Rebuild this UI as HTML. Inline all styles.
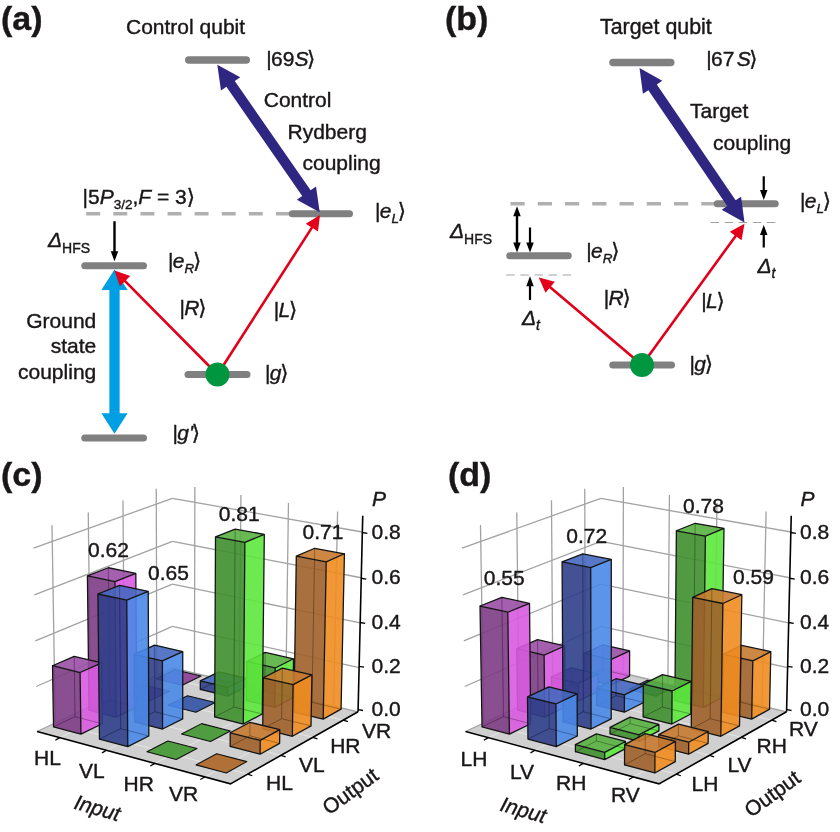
<!DOCTYPE html>
<html><head><meta charset="utf-8"><title>Figure</title>
<style>
html,body{margin:0;padding:0;background:#fff;}
svg{display:block;}
text{font-family:'Liberation Sans', 'DejaVu Sans', sans-serif;fill:#1a1718;stroke:#1a1718;stroke-width:0.4px;}
</style></head>
<body>
<svg width="840" height="832" viewBox="0 0 840 832">
<rect width="840" height="832" fill="#fff"/>
<g id="top"><line x1="86.25" y1="213.75" x2="300" y2="213.75" stroke="#b0b0b0" stroke-width="3.6" stroke-dasharray="13.9 13.2"/>
<line x1="188.75" y1="60" x2="246.25" y2="60" stroke="#808080" stroke-width="7.5" stroke-linecap="round"/>
<line x1="292.25" y1="213.75" x2="349.5" y2="213.75" stroke="#808080" stroke-width="7" stroke-linecap="round"/>
<line x1="84.75" y1="265.75" x2="143.5" y2="265.75" stroke="#808080" stroke-width="7" stroke-linecap="round"/>
<line x1="84.75" y1="438" x2="143.5" y2="438" stroke="#808080" stroke-width="7" stroke-linecap="round"/>
<line x1="188.0" y1="374.5" x2="247.0" y2="374.5" stroke="#808080" stroke-width="7" stroke-linecap="round"/>
<polygon points="114.50,433.75 127.62,413.25 119.62,413.25 119.62,290.00 127.62,290.00 114.50,269.50 101.38,290.00 109.38,290.00 109.38,413.25 101.38,413.25" fill="#009fe3"/>
<polygon points="218.42,373.59 125.98,280.24 130.21,276.06 114.50,270.50 119.90,286.26 124.13,282.07 216.58,375.41" fill="#e2001a"/>
<polygon points="218.59,375.20 312.98,228.32 317.99,231.54 320.00,215.00 305.79,223.70 310.80,226.92 216.41,373.80" fill="#e2001a"/>
<polygon points="217.30,64.70 220.97,90.51 226.39,86.75 302.23,196.06 296.81,199.83 319.70,212.30 316.03,186.49 310.61,190.25 234.77,80.94 240.19,77.17" fill="#2f2682"/>
<circle cx="217.5" cy="374.5" r="12" fill="#00963f"/>
<polygon points="113.30,221.25 113.30,251.25 110.75,251.25 114.50,261.25 118.25,251.25 115.70,251.25 115.70,221.25" fill="#000"/>
<line x1="510.5" y1="203.75" x2="726" y2="203.75" stroke="#b0b0b0" stroke-width="3.6" stroke-dasharray="14.2 13.05"/>
<line x1="613.0" y1="62.5" x2="670.75" y2="62.5" stroke="#808080" stroke-width="7.5" stroke-linecap="round"/>
<line x1="717.25" y1="203.75" x2="775.25" y2="203.75" stroke="#808080" stroke-width="7" stroke-linecap="round"/>
<line x1="509.75" y1="255.75" x2="568.25" y2="255.75" stroke="#808080" stroke-width="7" stroke-linecap="round"/>
<line x1="612.75" y1="365" x2="671.5" y2="365" stroke="#808080" stroke-width="7" stroke-linecap="round"/>
<line x1="710.5" y1="222.5" x2="777.5" y2="222.5" stroke="#999" stroke-width="0.9" stroke-dasharray="8.5 5.6"/>
<line x1="506.25" y1="275" x2="571.25" y2="275" stroke="#999" stroke-width="0.9" stroke-dasharray="8.5 5.6"/>
<polygon points="642.84,364.01 551.03,286.21 554.88,281.67 538.75,277.50 545.51,292.73 549.35,288.19 641.16,365.99" fill="#e2001a"/>
<polygon points="643.05,365.76 736.74,236.65 741.56,240.15 744.50,223.75 729.82,231.63 734.64,235.13 640.95,364.24" fill="#e2001a"/>
<polygon points="639.50,68.00 642.92,93.85 648.38,90.14 727.19,206.10 721.73,209.81 744.50,222.50 741.08,196.65 735.62,200.36 656.81,84.40 662.27,80.69" fill="#2f2682"/>
<circle cx="642" cy="365" r="12" fill="#00963f"/>
<polygon points="762.65,176.25 762.65,190.00 760.00,190.00 763.75,200.00 767.50,190.00 764.85,190.00 764.85,176.25" fill="#000"/>
<polygon points="764.85,247.50 764.85,235.00 767.50,235.00 763.75,225.00 760.00,235.00 762.65,235.00 762.65,247.50" fill="#000"/>
<polygon points="517.00,206.25 513.25,216.25 515.80,216.25 515.80,242.50 513.25,242.50 517.00,252.50 520.75,242.50 518.20,242.50 518.20,216.25 520.75,216.25" fill="#000"/>
<polygon points="528.90,227.50 528.90,242.50 526.25,242.50 530.00,252.50 533.75,242.50 531.10,242.50 531.10,227.50" fill="#000"/>
<polygon points="531.10,300.00 531.10,286.25 533.75,286.25 530.00,276.25 526.25,286.25 528.90,286.25 528.90,300.00" fill="#000"/></g>
<g id="chart-c"><polygon points="37.04,731.50 230.47,783.88 358.06,711.79 172.52,668.00" fill="#d0d0d0"/>
<line x1="59.81" y1="737.67" x2="194.47" y2="673.18" stroke="#e6e6e6" stroke-width="1"/>
<line x1="55.26" y1="722.96" x2="247.71" y2="774.14" stroke="#e6e6e6" stroke-width="1"/>
<line x1="106.52" y1="750.31" x2="239.40" y2="683.79" stroke="#e6e6e6" stroke-width="1"/>
<line x1="90.54" y1="706.42" x2="281.03" y2="755.32" stroke="#e6e6e6" stroke-width="1"/>
<line x1="154.82" y1="763.40" x2="285.75" y2="694.72" stroke="#e6e6e6" stroke-width="1"/>
<line x1="124.36" y1="690.57" x2="312.86" y2="737.33" stroke="#e6e6e6" stroke-width="1"/>
<line x1="204.81" y1="776.94" x2="333.57" y2="706.01" stroke="#e6e6e6" stroke-width="1"/>
<line x1="156.79" y1="675.37" x2="343.32" y2="720.12" stroke="#e6e6e6" stroke-width="1"/>
<line x1="55.26" y1="722.96" x2="51.99" y2="525.12" stroke="#a2a2a2" stroke-width="1.3"/>
<line x1="194.47" y1="673.18" x2="194.86" y2="486.99" stroke="#a2a2a2" stroke-width="1.3"/>
<line x1="90.54" y1="706.42" x2="88.26" y2="512.47" stroke="#a2a2a2" stroke-width="1.3"/>
<line x1="239.40" y1="683.79" x2="240.92" y2="494.91" stroke="#a2a2a2" stroke-width="1.3"/>
<line x1="124.36" y1="690.57" x2="122.98" y2="500.36" stroke="#a2a2a2" stroke-width="1.3"/>
<line x1="285.75" y1="694.72" x2="288.47" y2="503.08" stroke="#a2a2a2" stroke-width="1.3"/>
<line x1="156.79" y1="675.37" x2="156.25" y2="488.75" stroke="#a2a2a2" stroke-width="1.3"/>
<line x1="333.57" y1="706.01" x2="337.58" y2="511.52" stroke="#a2a2a2" stroke-width="1.3"/>
<line x1="37.04" y1="731.50" x2="172.52" y2="668.00" stroke="#a2a2a2" stroke-width="1.3"/>
<line x1="172.52" y1="668.00" x2="358.06" y2="711.79" stroke="#a2a2a2" stroke-width="1.3"/>
<line x1="36.19" y1="686.49" x2="172.48" y2="626.29" stroke="#a2a2a2" stroke-width="1.3"/>
<line x1="172.48" y1="626.29" x2="359.11" y2="667.64" stroke="#a2a2a2" stroke-width="1.3"/>
<line x1="35.32" y1="640.93" x2="172.45" y2="584.11" stroke="#a2a2a2" stroke-width="1.3"/>
<line x1="172.45" y1="584.11" x2="360.18" y2="622.96" stroke="#a2a2a2" stroke-width="1.3"/>
<line x1="34.45" y1="594.81" x2="172.41" y2="541.46" stroke="#a2a2a2" stroke-width="1.3"/>
<line x1="172.41" y1="541.46" x2="361.26" y2="577.75" stroke="#a2a2a2" stroke-width="1.3"/>
<line x1="33.56" y1="548.13" x2="172.38" y2="498.34" stroke="#a2a2a2" stroke-width="1.3"/>
<line x1="172.38" y1="498.34" x2="362.36" y2="531.99" stroke="#a2a2a2" stroke-width="1.3"/>
<polygon points="155.64,678.71 182.27,685.13 201.05,676.07 174.58,669.80" fill="#8e4596" fill-opacity="0.95" stroke="#111" stroke-width="1.1" stroke-linejoin="round"/>
<polygon points="123.03,694.06 149.91,700.76 169.49,691.31 142.76,684.77" fill="#8e4596" fill-opacity="0.95" stroke="#111" stroke-width="1.1" stroke-linejoin="round"/>
<path d="M218.97,680.30L200.30,689.48M218.97,680.30L246.27,686.76M218.97,680.30L219.02,671.86" stroke="#000" stroke-opacity="0.6" stroke-width="1" fill="none"/>
<polygon points="200.30,689.48 227.76,696.11 227.82,687.50 200.32,680.95" fill="#2f3f8a" fill-opacity="0.9"/>
<polygon points="227.76,696.11 246.27,686.76 246.35,678.25 227.82,687.50" fill="#4a88e8" fill-opacity="0.9"/>
<polygon points="200.32,680.95 227.82,687.50 246.35,678.25 219.02,671.86" fill="#4668c0" fill-opacity="0.9"/>
<path d="M218.97,680.30L200.30,689.48M218.97,680.30L246.27,686.76M218.97,680.30L219.02,671.86" stroke="#000" stroke-opacity="0.22" stroke-width="1" fill="none"/>
<path d="M200.30,689.48L227.76,696.11L246.27,686.76M200.30,689.48L200.32,680.95M227.76,696.11L227.82,687.50M246.27,686.76L246.35,678.25M200.32,680.95L227.82,687.50L246.35,678.25L219.02,671.86Z" stroke="#141414" stroke-width="1.3" fill="none" stroke-linejoin="round" stroke-linecap="round"/>
<path d="M109.60,700.38L89.02,710.06M109.60,700.38L136.58,707.20M109.60,700.38L108.38,567.74" stroke="#000" stroke-opacity="0.6" stroke-width="1" fill="none"/>
<polygon points="89.02,710.06 116.15,717.06 115.02,581.67 87.42,575.87" fill="#7d3c84" fill-opacity="0.9"/>
<polygon points="116.15,717.06 136.58,707.20 135.82,573.39 115.02,581.67" fill="#d85be0" fill-opacity="0.9"/>
<polygon points="87.42,575.87 115.02,581.67 135.82,573.39 108.38,567.74" fill="#9a4ea6" fill-opacity="0.9"/>
<path d="M109.60,700.38L89.02,710.06M109.60,700.38L136.58,707.20M109.60,700.38L108.38,567.74" stroke="#000" stroke-opacity="0.22" stroke-width="1" fill="none"/>
<path d="M89.02,710.06L116.15,717.06L136.58,707.20M89.02,710.06L87.42,575.87M116.15,717.06L115.02,581.67M136.58,707.20L135.82,573.39M87.42,575.87L115.02,581.67L135.82,573.39L108.38,567.74Z" stroke="#141414" stroke-width="1.3" fill="none" stroke-linejoin="round" stroke-linecap="round"/>
<polygon points="168.11,705.30 195.86,712.22 215.16,702.47 187.59,695.73" fill="#3a58a6" fill-opacity="0.95" stroke="#111" stroke-width="1.1" stroke-linejoin="round"/>
<path d="M264.76,691.13L246.36,700.59M264.76,691.13L292.92,697.79M264.76,691.13L265.20,652.45" stroke="#000" stroke-opacity="0.6" stroke-width="1" fill="none"/>
<polygon points="246.36,700.59 274.71,707.43 275.22,667.97 246.72,661.47" fill="#3f8f2e" fill-opacity="0.9"/>
<polygon points="274.71,707.43 292.92,697.79 293.51,658.78 275.22,667.97" fill="#5ce83c" fill-opacity="0.9"/>
<polygon points="246.72,661.47 275.22,667.97 293.51,658.78 265.20,652.45" fill="#58b040" fill-opacity="0.9"/>
<path d="M264.76,691.13L246.36,700.59M264.76,691.13L292.92,697.79M264.76,691.13L265.20,652.45" stroke="#000" stroke-opacity="0.22" stroke-width="1" fill="none"/>
<path d="M246.36,700.59L274.71,707.43L292.92,697.79M246.36,700.59L246.72,661.47M274.71,707.43L275.22,667.97M292.92,697.79L293.51,658.78M246.72,661.47L275.22,667.97L293.51,658.78L265.20,652.45Z" stroke="#141414" stroke-width="1.3" fill="none" stroke-linejoin="round" stroke-linecap="round"/>
<path d="M75.01,716.65L53.53,726.76M75.01,716.65L102.24,723.78M75.01,716.65L74.18,656.34" stroke="#000" stroke-opacity="0.6" stroke-width="1" fill="none"/>
<polygon points="53.53,726.76 80.91,734.08 80.10,672.51 52.51,665.74" fill="#7d3c84" fill-opacity="0.9"/>
<polygon points="80.91,734.08 102.24,723.78 101.61,662.93 80.10,672.51" fill="#d85be0" fill-opacity="0.9"/>
<polygon points="52.51,665.74 80.10,672.51 101.61,662.93 74.18,656.34" fill="#9a4ea6" fill-opacity="0.9"/>
<path d="M75.01,716.65L53.53,726.76M75.01,716.65L102.24,723.78M75.01,716.65L74.18,656.34" stroke="#000" stroke-opacity="0.22" stroke-width="1" fill="none"/>
<path d="M53.53,726.76L80.91,734.08L102.24,723.78M53.53,726.76L52.51,665.74M80.91,734.08L80.10,672.51M102.24,723.78L101.61,662.93M52.51,665.74L80.10,672.51L101.61,662.93L74.18,656.34Z" stroke="#141414" stroke-width="1.3" fill="none" stroke-linejoin="round" stroke-linecap="round"/>
<path d="M154.85,711.82L134.53,721.80M154.85,711.82L182.71,718.86M154.85,711.82L154.64,645.12" stroke="#000" stroke-opacity="0.6" stroke-width="1" fill="none"/>
<polygon points="134.53,721.80 162.55,729.04 162.40,660.95 134.13,654.32" fill="#2f3f8a" fill-opacity="0.9"/>
<polygon points="162.55,729.04 182.71,718.86 182.74,651.57 162.40,660.95" fill="#4a88e8" fill-opacity="0.9"/>
<polygon points="134.13,654.32 162.40,660.95 182.74,651.57 154.64,645.12" fill="#4668c0" fill-opacity="0.9"/>
<path d="M154.85,711.82L134.53,721.80M154.85,711.82L182.71,718.86M154.85,711.82L154.64,645.12" stroke="#000" stroke-opacity="0.22" stroke-width="1" fill="none"/>
<path d="M134.53,721.80L162.55,729.04L182.71,718.86M134.53,721.80L134.13,654.32M162.55,729.04L162.40,660.95M182.71,718.86L182.74,651.57M134.13,654.32L162.40,660.95L182.74,651.57L154.64,645.12Z" stroke="#141414" stroke-width="1.3" fill="none" stroke-linejoin="round" stroke-linecap="round"/>
<path d="M233.84,707.04L214.65,716.91M233.84,707.04L262.31,713.99M233.84,707.04L235.15,529.04" stroke="#000" stroke-opacity="0.6" stroke-width="1" fill="none"/>
<polygon points="214.65,716.91 243.31,724.05 244.87,542.30 215.51,536.79" fill="#3f8f2e" fill-opacity="0.9"/>
<polygon points="243.31,724.05 262.31,713.99 264.31,534.40 244.87,542.30" fill="#5ce83c" fill-opacity="0.9"/>
<polygon points="215.51,536.79 244.87,542.30 264.31,534.40 235.15,529.04" fill="#58b040" fill-opacity="0.9"/>
<path d="M233.84,707.04L214.65,716.91M233.84,707.04L262.31,713.99M233.84,707.04L235.15,529.04" stroke="#000" stroke-opacity="0.22" stroke-width="1" fill="none"/>
<path d="M214.65,716.91L243.31,724.05L262.31,713.99M214.65,716.91L215.51,536.79M243.31,724.05L244.87,542.30M262.31,713.99L264.31,534.40M215.51,536.79L244.87,542.30L264.31,534.40L235.15,529.04Z" stroke="#141414" stroke-width="1.3" fill="none" stroke-linejoin="round" stroke-linecap="round"/>
<path d="M311.99,702.30L293.91,712.06M311.99,702.30L341.06,709.18M311.99,702.30L314.73,548.27" stroke="#000" stroke-opacity="0.6" stroke-width="1" fill="none"/>
<polygon points="293.91,712.06 323.19,719.12 326.22,561.86 296.31,556.20" fill="#a0602a" fill-opacity="0.9"/>
<polygon points="323.19,719.12 341.06,709.18 344.43,553.77 326.22,561.86" fill="#f08c20" fill-opacity="0.9"/>
<polygon points="296.31,556.20 326.22,561.86 344.43,553.77 314.73,548.27" fill="#c87a30" fill-opacity="0.9"/>
<path d="M311.99,702.30L293.91,712.06M311.99,702.30L341.06,709.18M311.99,702.30L314.73,548.27" stroke="#000" stroke-opacity="0.22" stroke-width="1" fill="none"/>
<path d="M293.91,712.06L323.19,719.12L341.06,709.18M293.91,712.06L296.31,556.20M323.19,719.12L326.22,561.86M341.06,709.18L344.43,553.77M296.31,556.20L326.22,561.86L344.43,553.77L314.73,548.27Z" stroke="#141414" stroke-width="1.3" fill="none" stroke-linejoin="round" stroke-linecap="round"/>
<path d="M120.69,728.61L99.46,739.04M120.69,728.61L148.82,735.97M120.69,728.61L119.57,585.30" stroke="#000" stroke-opacity="0.6" stroke-width="1" fill="none"/>
<polygon points="99.46,739.04 127.76,746.61 126.75,600.22 97.92,593.99" fill="#2f3f8a" fill-opacity="0.9"/>
<polygon points="127.76,746.61 148.82,735.97 148.24,591.35 126.75,600.22" fill="#4a88e8" fill-opacity="0.9"/>
<polygon points="97.92,593.99 126.75,600.22 148.24,591.35 119.57,585.30" fill="#4668c0" fill-opacity="0.9"/>
<path d="M120.69,728.61L99.46,739.04M120.69,728.61L148.82,735.97M120.69,728.61L119.57,585.30" stroke="#000" stroke-opacity="0.22" stroke-width="1" fill="none"/>
<path d="M99.46,739.04L127.76,746.61L148.82,735.97M99.46,739.04L97.92,593.99M127.76,746.61L126.75,600.22M148.82,735.97L148.24,591.35M97.92,593.99L126.75,600.22L148.24,591.35L119.57,585.30Z" stroke="#141414" stroke-width="1.3" fill="none" stroke-linejoin="round" stroke-linecap="round"/>
<polygon points="181.54,733.94 210.50,741.42 230.36,730.91 201.58,723.63" fill="#489a38" fill-opacity="0.95" stroke="#111" stroke-width="1.1" stroke-linejoin="round"/>
<path d="M281.60,718.71L262.73,728.90M281.60,718.71L311.01,725.89M281.60,718.71L282.29,668.19" stroke="#000" stroke-opacity="0.6" stroke-width="1" fill="none"/>
<polygon points="262.73,728.90 292.33,736.28 293.12,684.70 263.30,677.77" fill="#a0602a" fill-opacity="0.9"/>
<polygon points="292.33,736.28 311.01,725.89 311.91,674.92 293.12,684.70" fill="#f08c20" fill-opacity="0.9"/>
<polygon points="263.30,677.77 293.12,684.70 311.91,674.92 282.29,668.19" fill="#c87a30" fill-opacity="0.9"/>
<path d="M281.60,718.71L262.73,728.90M281.60,718.71L311.01,725.89M281.60,718.71L282.29,668.19" stroke="#000" stroke-opacity="0.22" stroke-width="1" fill="none"/>
<path d="M262.73,728.90L292.33,736.28L311.01,725.89M262.73,728.90L263.30,677.77M292.33,736.28L293.12,684.70M311.01,725.89L311.91,674.92M263.30,677.77L293.12,684.70L311.91,674.92L282.29,668.19Z" stroke="#141414" stroke-width="1.3" fill="none" stroke-linejoin="round" stroke-linecap="round"/>
<polygon points="146.94,751.74 176.21,759.57 196.97,748.58 167.89,740.97" fill="#489a38" fill-opacity="0.95" stroke="#111" stroke-width="1.1" stroke-linejoin="round"/>
<path d="M249.86,735.84L230.14,746.48M249.86,735.84L279.61,743.36M249.86,735.84L249.99,722.29" stroke="#000" stroke-opacity="0.6" stroke-width="1" fill="none"/>
<polygon points="230.14,746.48 260.09,754.21 260.24,740.37 230.23,732.77" fill="#a0602a" fill-opacity="0.9"/>
<polygon points="260.09,754.21 279.61,743.36 279.79,729.68 260.24,740.37" fill="#f08c20" fill-opacity="0.9"/>
<polygon points="230.23,732.77 260.24,740.37 279.79,729.68 249.99,722.29" fill="#c87a30" fill-opacity="0.9"/>
<path d="M249.86,735.84L230.14,746.48M249.86,735.84L279.61,743.36M249.86,735.84L249.99,722.29" stroke="#000" stroke-opacity="0.22" stroke-width="1" fill="none"/>
<path d="M230.14,746.48L260.09,754.21L279.61,743.36M230.14,746.48L230.23,732.77M260.09,754.21L260.24,740.37M279.61,743.36L279.79,729.68M230.23,732.77L260.24,740.37L279.79,729.68L249.99,722.29Z" stroke="#141414" stroke-width="1.3" fill="none" stroke-linejoin="round" stroke-linecap="round"/>
<polygon points="196.05,764.88 226.34,772.98 246.77,761.62 216.69,753.74" fill="#ae6a2e" fill-opacity="0.95" stroke="#111" stroke-width="1.1" stroke-linejoin="round"/>
<path d="M37.04,731.50L230.47,783.88L358.06,711.79" stroke="#000" stroke-width="1.6" fill="none" stroke-linejoin="miter"/>
<path d="M358.06,711.79L362.74,515.85" stroke="#000" stroke-width="1.6" fill="none"/>
<line x1="59.81" y1="737.67" x2="55.31" y2="740.27" stroke="#000" stroke-width="1.3"/>
<line x1="247.71" y1="774.14" x2="252.31" y2="775.74" stroke="#000" stroke-width="1.3"/>
<line x1="106.52" y1="750.31" x2="102.02" y2="752.91" stroke="#000" stroke-width="1.3"/>
<line x1="281.03" y1="755.32" x2="285.63" y2="756.92" stroke="#000" stroke-width="1.3"/>
<line x1="154.82" y1="763.40" x2="150.32" y2="766.00" stroke="#000" stroke-width="1.3"/>
<line x1="312.86" y1="737.33" x2="317.46" y2="738.93" stroke="#000" stroke-width="1.3"/>
<line x1="204.81" y1="776.94" x2="200.31" y2="779.54" stroke="#000" stroke-width="1.3"/>
<line x1="343.32" y1="720.12" x2="347.92" y2="721.72" stroke="#000" stroke-width="1.3"/>
<line x1="358.06" y1="709.70" x2="363.06" y2="710.50" stroke="#000" stroke-width="1.3"/>
<line x1="359.11" y1="666.40" x2="364.11" y2="667.20" stroke="#000" stroke-width="1.3"/>
<line x1="360.18" y1="622.50" x2="365.18" y2="623.30" stroke="#000" stroke-width="1.3"/>
<line x1="361.26" y1="578.25" x2="366.26" y2="579.05" stroke="#000" stroke-width="1.3"/>
<line x1="362.36" y1="532.50" x2="367.36" y2="533.30" stroke="#000" stroke-width="1.3"/>
<text x="371.5" y="538.75" font-size="21">0.8</text>
<text x="371.5" y="583.75" font-size="21">0.6</text>
<text x="371.5" y="629.25" font-size="21">0.4</text>
<text x="371.5" y="673.25" font-size="21">0.2</text>
<text x="371.5" y="716.25" font-size="21">0.0</text>
<text x="372.0" y="506.3" font-size="21" font-style="italic">P</text>
<text x="34.0" y="765" font-size="21">HL</text>
<text x="79.0" y="777.5" font-size="21">VL</text>
<text x="123.5" y="791.25" font-size="21">HR</text>
<text x="169.0" y="801.25" font-size="21">VR</text>
<text x="266.0" y="790" font-size="21">HL</text>
<text x="299.0" y="772" font-size="21">VL</text>
<text x="330.2" y="752.5" font-size="21">HR</text>
<text x="362.0" y="737.5" font-size="21">VR</text>
<text transform="translate(73,808.5) rotate(16)" font-size="21" font-style="italic">Input</text>
<text transform="translate(329,815.5) rotate(-36)" font-size="21">Output</text>
<text x="88" y="557" font-size="21">0.62</text>
<text x="148" y="580" font-size="21">0.65</text>
<text x="218.75" y="520.5" font-size="21">0.81</text>
<text x="302.5" y="539.25" font-size="21">0.71</text></g>
<g id="chart-d"><polygon points="465.54,731.50 658.97,783.88 786.56,711.79 601.02,668.00" fill="#d0d0d0"/>
<line x1="488.31" y1="737.67" x2="622.97" y2="673.18" stroke="#e6e6e6" stroke-width="1"/>
<line x1="483.76" y1="722.96" x2="676.21" y2="774.14" stroke="#e6e6e6" stroke-width="1"/>
<line x1="535.02" y1="750.31" x2="667.90" y2="683.79" stroke="#e6e6e6" stroke-width="1"/>
<line x1="519.04" y1="706.42" x2="709.53" y2="755.32" stroke="#e6e6e6" stroke-width="1"/>
<line x1="583.32" y1="763.40" x2="714.25" y2="694.72" stroke="#e6e6e6" stroke-width="1"/>
<line x1="552.86" y1="690.57" x2="741.36" y2="737.33" stroke="#e6e6e6" stroke-width="1"/>
<line x1="633.31" y1="776.94" x2="762.07" y2="706.01" stroke="#e6e6e6" stroke-width="1"/>
<line x1="585.29" y1="675.37" x2="771.82" y2="720.12" stroke="#e6e6e6" stroke-width="1"/>
<line x1="483.76" y1="722.96" x2="480.49" y2="525.12" stroke="#a2a2a2" stroke-width="1.3"/>
<line x1="622.97" y1="673.18" x2="623.36" y2="486.99" stroke="#a2a2a2" stroke-width="1.3"/>
<line x1="519.04" y1="706.42" x2="516.76" y2="512.47" stroke="#a2a2a2" stroke-width="1.3"/>
<line x1="667.90" y1="683.79" x2="669.42" y2="494.91" stroke="#a2a2a2" stroke-width="1.3"/>
<line x1="552.86" y1="690.57" x2="551.48" y2="500.36" stroke="#a2a2a2" stroke-width="1.3"/>
<line x1="714.25" y1="694.72" x2="716.97" y2="503.08" stroke="#a2a2a2" stroke-width="1.3"/>
<line x1="585.29" y1="675.37" x2="584.75" y2="488.75" stroke="#a2a2a2" stroke-width="1.3"/>
<line x1="762.07" y1="706.01" x2="766.08" y2="511.52" stroke="#a2a2a2" stroke-width="1.3"/>
<line x1="465.54" y1="731.50" x2="601.02" y2="668.00" stroke="#a2a2a2" stroke-width="1.3"/>
<line x1="601.02" y1="668.00" x2="786.56" y2="711.79" stroke="#a2a2a2" stroke-width="1.3"/>
<line x1="464.69" y1="686.49" x2="600.98" y2="626.29" stroke="#a2a2a2" stroke-width="1.3"/>
<line x1="600.98" y1="626.29" x2="787.61" y2="667.64" stroke="#a2a2a2" stroke-width="1.3"/>
<line x1="463.82" y1="640.93" x2="600.95" y2="584.11" stroke="#a2a2a2" stroke-width="1.3"/>
<line x1="600.95" y1="584.11" x2="788.68" y2="622.96" stroke="#a2a2a2" stroke-width="1.3"/>
<line x1="462.95" y1="594.81" x2="600.91" y2="541.46" stroke="#a2a2a2" stroke-width="1.3"/>
<line x1="600.91" y1="541.46" x2="789.76" y2="577.75" stroke="#a2a2a2" stroke-width="1.3"/>
<line x1="462.06" y1="548.13" x2="600.88" y2="498.34" stroke="#a2a2a2" stroke-width="1.3"/>
<line x1="600.88" y1="498.34" x2="790.86" y2="531.99" stroke="#a2a2a2" stroke-width="1.3"/>
<path d="M603.08,669.80L584.14,678.71M603.08,669.80L629.55,676.07M603.08,669.80L603.06,644.77" stroke="#000" stroke-opacity="0.6" stroke-width="1" fill="none"/>
<polygon points="584.14,678.71 610.77,685.13 610.78,659.61 584.07,653.40" fill="#7d3c84" fill-opacity="0.9"/>
<polygon points="610.77,685.13 629.55,676.07 629.63,650.83 610.78,659.61" fill="#d85be0" fill-opacity="0.9"/>
<polygon points="584.07,653.40 610.78,659.61 629.63,650.83 603.06,644.77" fill="#9a4ea6" fill-opacity="0.9"/>
<path d="M603.08,669.80L584.14,678.71M603.08,669.80L629.55,676.07M603.08,669.80L603.06,644.77" stroke="#000" stroke-opacity="0.22" stroke-width="1" fill="none"/>
<path d="M584.14,678.71L610.77,685.13L629.55,676.07M584.14,678.71L584.07,653.40M610.77,685.13L610.78,659.61M629.55,676.07L629.63,650.83M584.07,653.40L610.78,659.61L629.63,650.83L603.06,644.77Z" stroke="#141414" stroke-width="1.3" fill="none" stroke-linejoin="round" stroke-linecap="round"/>
<path d="M571.26,684.77L551.53,694.06M571.26,684.77L597.99,691.31M571.26,684.77L571.18,667.80" stroke="#000" stroke-opacity="0.6" stroke-width="1" fill="none"/>
<polygon points="551.53,694.06 578.41,700.76 578.34,683.44 551.40,676.89" fill="#7d3c84" fill-opacity="0.9"/>
<polygon points="578.41,700.76 597.99,691.31 597.97,674.18 578.34,683.44" fill="#d85be0" fill-opacity="0.9"/>
<polygon points="551.40,676.89 578.34,683.44 597.97,674.18 571.18,667.80" fill="#9a4ea6" fill-opacity="0.9"/>
<path d="M571.26,684.77L551.53,694.06M571.26,684.77L597.99,691.31M571.26,684.77L571.18,667.80" stroke="#000" stroke-opacity="0.22" stroke-width="1" fill="none"/>
<path d="M551.53,694.06L578.41,700.76L597.99,691.31M551.53,694.06L551.40,676.89M578.41,700.76L578.34,683.44M597.99,691.31L597.97,674.18M551.40,676.89L578.34,683.44L597.97,674.18L571.18,667.80Z" stroke="#141414" stroke-width="1.3" fill="none" stroke-linejoin="round" stroke-linecap="round"/>
<polygon points="628.80,689.48 656.26,696.11 674.77,686.76 647.47,680.30" fill="#3a58a6" fill-opacity="0.95" stroke="#111" stroke-width="1.1" stroke-linejoin="round"/>
<path d="M538.10,700.38L517.52,710.06M538.10,700.38L565.08,707.20M538.10,700.38L537.54,639.69" stroke="#000" stroke-opacity="0.6" stroke-width="1" fill="none"/>
<polygon points="517.52,710.06 544.65,717.06 544.13,655.12 516.79,648.66" fill="#7d3c84" fill-opacity="0.9"/>
<polygon points="544.65,717.06 565.08,707.20 564.73,645.98 544.13,655.12" fill="#d85be0" fill-opacity="0.9"/>
<polygon points="516.79,648.66 544.13,655.12 564.73,645.98 537.54,639.69" fill="#9a4ea6" fill-opacity="0.9"/>
<path d="M538.10,700.38L517.52,710.06M538.10,700.38L565.08,707.20M538.10,700.38L537.54,639.69" stroke="#000" stroke-opacity="0.22" stroke-width="1" fill="none"/>
<path d="M517.52,710.06L544.65,717.06L565.08,707.20M517.52,710.06L516.79,648.66M544.65,717.06L544.13,655.12M565.08,707.20L564.73,645.98M516.79,648.66L544.13,655.12L564.73,645.98L537.54,639.69Z" stroke="#141414" stroke-width="1.3" fill="none" stroke-linejoin="round" stroke-linecap="round"/>
<path d="M616.09,695.73L596.61,705.30M616.09,695.73L643.66,702.47M616.09,695.73L616.10,678.72" stroke="#000" stroke-opacity="0.6" stroke-width="1" fill="none"/>
<polygon points="596.61,705.30 624.36,712.22 624.40,694.87 596.59,688.10" fill="#2f3f8a" fill-opacity="0.9"/>
<polygon points="624.36,712.22 643.66,702.47 643.75,685.32 624.40,694.87" fill="#4a88e8" fill-opacity="0.9"/>
<polygon points="596.59,688.10 624.40,694.87 643.75,685.32 616.10,678.72" fill="#4668c0" fill-opacity="0.9"/>
<path d="M616.09,695.73L596.61,705.30M616.09,695.73L643.66,702.47M616.09,695.73L616.10,678.72" stroke="#000" stroke-opacity="0.22" stroke-width="1" fill="none"/>
<path d="M596.61,705.30L624.36,712.22L643.66,702.47M596.61,705.30L596.59,688.10M624.36,712.22L624.40,694.87M643.66,702.47L643.75,685.32M596.59,688.10L624.40,694.87L643.75,685.32L616.10,678.72Z" stroke="#141414" stroke-width="1.3" fill="none" stroke-linejoin="round" stroke-linecap="round"/>
<path d="M693.26,691.13L674.86,700.59M693.26,691.13L721.42,697.79M693.26,691.13L695.17,523.27" stroke="#000" stroke-opacity="0.6" stroke-width="1" fill="none"/>
<polygon points="674.86,700.59 703.21,707.43 705.40,536.10 676.39,530.77" fill="#3f8f2e" fill-opacity="0.9"/>
<polygon points="703.21,707.43 721.42,697.79 723.99,528.46 705.40,536.10" fill="#5ce83c" fill-opacity="0.9"/>
<polygon points="676.39,530.77 705.40,536.10 723.99,528.46 695.17,523.27" fill="#58b040" fill-opacity="0.9"/>
<path d="M693.26,691.13L674.86,700.59M693.26,691.13L721.42,697.79M693.26,691.13L695.17,523.27" stroke="#000" stroke-opacity="0.22" stroke-width="1" fill="none"/>
<path d="M674.86,700.59L703.21,707.43L721.42,697.79M674.86,700.59L676.39,530.77M703.21,707.43L705.40,536.10M721.42,697.79L723.99,528.46M676.39,530.77L705.40,536.10L723.99,528.46L695.17,523.27Z" stroke="#141414" stroke-width="1.3" fill="none" stroke-linejoin="round" stroke-linecap="round"/>
<path d="M503.51,716.65L482.03,726.76M503.51,716.65L530.74,723.78M503.51,716.65L501.86,597.33" stroke="#000" stroke-opacity="0.6" stroke-width="1" fill="none"/>
<polygon points="482.03,726.76 509.41,734.08 507.81,612.23 480.01,606.01" fill="#7d3c84" fill-opacity="0.9"/>
<polygon points="509.41,734.08 530.74,723.78 529.50,603.38 507.81,612.23" fill="#d85be0" fill-opacity="0.9"/>
<polygon points="480.01,606.01 507.81,612.23 529.50,603.38 501.86,597.33" fill="#9a4ea6" fill-opacity="0.9"/>
<path d="M503.51,716.65L482.03,726.76M503.51,716.65L530.74,723.78M503.51,716.65L501.86,597.33" stroke="#000" stroke-opacity="0.22" stroke-width="1" fill="none"/>
<path d="M482.03,726.76L509.41,734.08L530.74,723.78M482.03,726.76L480.01,606.01M509.41,734.08L507.81,612.23M530.74,723.78L529.50,603.38M480.01,606.01L507.81,612.23L529.50,603.38L501.86,597.33Z" stroke="#141414" stroke-width="1.3" fill="none" stroke-linejoin="round" stroke-linecap="round"/>
<path d="M583.35,711.82L563.03,721.80M583.35,711.82L611.21,718.86M583.35,711.82L582.85,553.78" stroke="#000" stroke-opacity="0.6" stroke-width="1" fill="none"/>
<polygon points="563.03,721.80 591.05,729.04 590.70,567.66 562.08,561.88" fill="#2f3f8a" fill-opacity="0.9"/>
<polygon points="591.05,729.04 611.21,718.86 611.29,559.41 590.70,567.66" fill="#4a88e8" fill-opacity="0.9"/>
<polygon points="562.08,561.88 590.70,567.66 611.29,559.41 582.85,553.78" fill="#4668c0" fill-opacity="0.9"/>
<path d="M583.35,711.82L563.03,721.80M583.35,711.82L611.21,718.86M583.35,711.82L582.85,553.78" stroke="#000" stroke-opacity="0.22" stroke-width="1" fill="none"/>
<path d="M563.03,721.80L591.05,729.04L611.21,718.86M563.03,721.80L562.08,561.88M591.05,729.04L590.70,567.66M611.21,718.86L611.29,559.41M562.08,561.88L590.70,567.66L611.29,559.41L582.85,553.78Z" stroke="#141414" stroke-width="1.3" fill="none" stroke-linejoin="round" stroke-linecap="round"/>
<path d="M662.34,707.04L643.15,716.91M662.34,707.04L690.81,713.99M662.34,707.04L662.58,674.65" stroke="#000" stroke-opacity="0.6" stroke-width="1" fill="none"/>
<polygon points="643.15,716.91 671.81,724.05 672.09,691.00 643.31,684.14" fill="#3f8f2e" fill-opacity="0.9"/>
<polygon points="671.81,724.05 690.81,713.99 691.18,681.32 672.09,691.00" fill="#5ce83c" fill-opacity="0.9"/>
<polygon points="643.31,684.14 672.09,691.00 691.18,681.32 662.58,674.65" fill="#58b040" fill-opacity="0.9"/>
<path d="M662.34,707.04L643.15,716.91M662.34,707.04L690.81,713.99M662.34,707.04L662.58,674.65" stroke="#000" stroke-opacity="0.22" stroke-width="1" fill="none"/>
<path d="M643.15,716.91L671.81,724.05L690.81,713.99M643.15,716.91L643.31,684.14M671.81,724.05L672.09,691.00M690.81,713.99L691.18,681.32M643.31,684.14L672.09,691.00L691.18,681.32L662.58,674.65Z" stroke="#141414" stroke-width="1.3" fill="none" stroke-linejoin="round" stroke-linecap="round"/>
<path d="M740.49,702.30L722.41,712.06M740.49,702.30L769.56,709.18M740.49,702.30L741.51,645.27" stroke="#000" stroke-opacity="0.6" stroke-width="1" fill="none"/>
<polygon points="722.41,712.06 751.69,719.12 752.81,660.91 723.30,654.37" fill="#a0602a" fill-opacity="0.9"/>
<polygon points="751.69,719.12 769.56,709.18 770.81,651.65 752.81,660.91" fill="#f08c20" fill-opacity="0.9"/>
<polygon points="723.30,654.37 752.81,660.91 770.81,651.65 741.51,645.27" fill="#c87a30" fill-opacity="0.9"/>
<path d="M740.49,702.30L722.41,712.06M740.49,702.30L769.56,709.18M740.49,702.30L741.51,645.27" stroke="#000" stroke-opacity="0.22" stroke-width="1" fill="none"/>
<path d="M722.41,712.06L751.69,719.12L769.56,709.18M722.41,712.06L723.30,654.37M751.69,719.12L752.81,660.91M769.56,709.18L770.81,651.65M723.30,654.37L752.81,660.91L770.81,651.65L741.51,645.27Z" stroke="#141414" stroke-width="1.3" fill="none" stroke-linejoin="round" stroke-linecap="round"/>
<path d="M549.19,728.61L527.96,739.04M549.19,728.61L577.32,735.97M549.19,728.61L548.86,686.86" stroke="#000" stroke-opacity="0.6" stroke-width="1" fill="none"/>
<polygon points="527.96,739.04 556.26,746.61 555.96,703.98 527.51,696.79" fill="#2f3f8a" fill-opacity="0.9"/>
<polygon points="556.26,746.61 577.32,735.97 577.15,693.85 555.96,703.98" fill="#4a88e8" fill-opacity="0.9"/>
<polygon points="527.51,696.79 555.96,703.98 577.15,693.85 548.86,686.86" fill="#4668c0" fill-opacity="0.9"/>
<path d="M549.19,728.61L527.96,739.04M549.19,728.61L577.32,735.97M549.19,728.61L548.86,686.86" stroke="#000" stroke-opacity="0.22" stroke-width="1" fill="none"/>
<path d="M527.96,739.04L556.26,746.61L577.32,735.97M527.96,739.04L527.51,696.79M556.26,746.61L555.96,703.98M577.32,735.97L577.15,693.85M527.51,696.79L555.96,703.98L577.15,693.85L548.86,686.86Z" stroke="#141414" stroke-width="1.3" fill="none" stroke-linejoin="round" stroke-linecap="round"/>
<path d="M630.08,723.63L610.04,733.94M630.08,723.63L658.86,730.91M630.08,723.63L630.10,717.18" stroke="#000" stroke-opacity="0.6" stroke-width="1" fill="none"/>
<polygon points="610.04,733.94 639.00,741.42 639.03,734.83 610.05,727.42" fill="#3f8f2e" fill-opacity="0.9"/>
<polygon points="639.00,741.42 658.86,730.91 658.90,724.40 639.03,734.83" fill="#5ce83c" fill-opacity="0.9"/>
<polygon points="610.05,727.42 639.03,734.83 658.90,724.40 630.10,717.18" fill="#58b040" fill-opacity="0.9"/>
<path d="M630.08,723.63L610.04,733.94M630.08,723.63L658.86,730.91M630.08,723.63L630.10,717.18" stroke="#000" stroke-opacity="0.22" stroke-width="1" fill="none"/>
<path d="M610.04,733.94L639.00,741.42L658.86,730.91M610.04,733.94L610.05,727.42M639.00,741.42L639.03,734.83M658.86,730.91L658.90,724.40M610.05,727.42L639.03,734.83L658.90,724.40L630.10,717.18Z" stroke="#141414" stroke-width="1.3" fill="none" stroke-linejoin="round" stroke-linecap="round"/>
<path d="M710.10,718.71L691.23,728.90M710.10,718.71L739.51,725.89M710.10,718.71L711.88,588.71" stroke="#000" stroke-opacity="0.6" stroke-width="1" fill="none"/>
<polygon points="691.23,728.90 720.83,736.28 722.85,603.51 692.70,597.33" fill="#a0602a" fill-opacity="0.9"/>
<polygon points="720.83,736.28 739.51,725.89 741.83,594.72 722.85,603.51" fill="#f08c20" fill-opacity="0.9"/>
<polygon points="692.70,597.33 722.85,603.51 741.83,594.72 711.88,588.71" fill="#c87a30" fill-opacity="0.9"/>
<path d="M710.10,718.71L691.23,728.90M710.10,718.71L739.51,725.89M710.10,718.71L711.88,588.71" stroke="#000" stroke-opacity="0.22" stroke-width="1" fill="none"/>
<path d="M691.23,728.90L720.83,736.28L739.51,725.89M691.23,728.90L692.70,597.33M720.83,736.28L722.85,603.51M739.51,725.89L741.83,594.72M692.70,597.33L722.85,603.51L741.83,594.72L711.88,588.71Z" stroke="#141414" stroke-width="1.3" fill="none" stroke-linejoin="round" stroke-linecap="round"/>
<path d="M596.39,740.97L575.44,751.74M596.39,740.97L625.47,748.58M596.39,740.97L596.38,733.94" stroke="#000" stroke-opacity="0.6" stroke-width="1" fill="none"/>
<polygon points="575.44,751.74 604.71,759.57 604.70,752.39 575.41,744.63" fill="#3f8f2e" fill-opacity="0.9"/>
<polygon points="604.71,759.57 625.47,748.58 625.49,741.49 604.70,752.39" fill="#5ce83c" fill-opacity="0.9"/>
<polygon points="575.41,744.63 604.70,752.39 625.49,741.49 596.38,733.94" fill="#58b040" fill-opacity="0.9"/>
<path d="M596.39,740.97L575.44,751.74M596.39,740.97L625.47,748.58M596.39,740.97L596.38,733.94" stroke="#000" stroke-opacity="0.22" stroke-width="1" fill="none"/>
<path d="M575.44,751.74L604.71,759.57L625.47,748.58M575.44,751.74L575.41,744.63M604.71,759.57L604.70,752.39M625.47,748.58L625.49,741.49M575.41,744.63L604.70,752.39L625.49,741.49L596.38,733.94Z" stroke="#141414" stroke-width="1.3" fill="none" stroke-linejoin="round" stroke-linecap="round"/>
<path d="M678.36,735.84L658.64,746.48M678.36,735.84L708.11,743.36M678.36,735.84L678.47,724.10" stroke="#000" stroke-opacity="0.6" stroke-width="1" fill="none"/>
<polygon points="658.64,746.48 688.59,754.21 688.72,742.22 658.72,734.60" fill="#a0602a" fill-opacity="0.9"/>
<polygon points="688.59,754.21 708.11,743.36 708.27,731.51 688.72,742.22" fill="#f08c20" fill-opacity="0.9"/>
<polygon points="658.72,734.60 688.72,742.22 708.27,731.51 678.47,724.10" fill="#c87a30" fill-opacity="0.9"/>
<path d="M678.36,735.84L658.64,746.48M678.36,735.84L708.11,743.36M678.36,735.84L678.47,724.10" stroke="#000" stroke-opacity="0.22" stroke-width="1" fill="none"/>
<path d="M658.64,746.48L688.59,754.21L708.11,743.36M658.64,746.48L658.72,734.60M688.59,754.21L688.72,742.22M708.11,743.36L708.27,731.51M658.72,734.60L688.72,742.22L708.27,731.51L678.47,724.10Z" stroke="#141414" stroke-width="1.3" fill="none" stroke-linejoin="round" stroke-linecap="round"/>
<path d="M645.19,753.74L624.55,764.88M645.19,753.74L675.27,761.62M645.19,753.74L645.29,733.68" stroke="#000" stroke-opacity="0.6" stroke-width="1" fill="none"/>
<polygon points="624.55,764.88 654.84,772.98 654.97,752.48 624.60,744.57" fill="#a0602a" fill-opacity="0.9"/>
<polygon points="654.84,772.98 675.27,761.62 675.46,741.37 654.97,752.48" fill="#f08c20" fill-opacity="0.9"/>
<polygon points="624.60,744.57 654.97,752.48 675.46,741.37 645.29,733.68" fill="#c87a30" fill-opacity="0.9"/>
<path d="M645.19,753.74L624.55,764.88M645.19,753.74L675.27,761.62M645.19,753.74L645.29,733.68" stroke="#000" stroke-opacity="0.22" stroke-width="1" fill="none"/>
<path d="M624.55,764.88L654.84,772.98L675.27,761.62M624.55,764.88L624.60,744.57M654.84,772.98L654.97,752.48M675.27,761.62L675.46,741.37M624.60,744.57L654.97,752.48L675.46,741.37L645.29,733.68Z" stroke="#141414" stroke-width="1.3" fill="none" stroke-linejoin="round" stroke-linecap="round"/>
<path d="M465.54,731.50L658.97,783.88L786.56,711.79" stroke="#000" stroke-width="1.6" fill="none" stroke-linejoin="miter"/>
<path d="M786.56,711.79L791.24,515.85" stroke="#000" stroke-width="1.6" fill="none"/>
<line x1="488.31" y1="737.67" x2="483.81" y2="740.27" stroke="#000" stroke-width="1.3"/>
<line x1="676.21" y1="774.14" x2="680.81" y2="775.74" stroke="#000" stroke-width="1.3"/>
<line x1="535.02" y1="750.31" x2="530.52" y2="752.91" stroke="#000" stroke-width="1.3"/>
<line x1="709.53" y1="755.32" x2="714.13" y2="756.92" stroke="#000" stroke-width="1.3"/>
<line x1="583.32" y1="763.40" x2="578.82" y2="766.00" stroke="#000" stroke-width="1.3"/>
<line x1="741.36" y1="737.33" x2="745.96" y2="738.93" stroke="#000" stroke-width="1.3"/>
<line x1="633.31" y1="776.94" x2="628.81" y2="779.54" stroke="#000" stroke-width="1.3"/>
<line x1="771.82" y1="720.12" x2="776.42" y2="721.72" stroke="#000" stroke-width="1.3"/>
<line x1="786.56" y1="709.70" x2="791.56" y2="710.50" stroke="#000" stroke-width="1.3"/>
<line x1="787.61" y1="666.40" x2="792.61" y2="667.20" stroke="#000" stroke-width="1.3"/>
<line x1="788.68" y1="622.50" x2="793.68" y2="623.30" stroke="#000" stroke-width="1.3"/>
<line x1="789.76" y1="578.25" x2="794.76" y2="579.05" stroke="#000" stroke-width="1.3"/>
<line x1="790.86" y1="532.50" x2="795.86" y2="533.30" stroke="#000" stroke-width="1.3"/>
<text x="800.0" y="538.75" font-size="21">0.8</text>
<text x="800.0" y="583.75" font-size="21">0.6</text>
<text x="800.0" y="629.25" font-size="21">0.4</text>
<text x="800.0" y="673.25" font-size="21">0.2</text>
<text x="800.0" y="716.25" font-size="21">0.0</text>
<text x="800.5" y="506.3" font-size="21" font-style="italic">P</text>
<text x="460.5" y="765.5" font-size="21">LH</text>
<text x="510.0" y="778.75" font-size="21">LV</text>
<text x="556.0" y="790" font-size="21">RH</text>
<text x="611.0" y="802" font-size="21">RV</text>
<text x="691.5" y="791.25" font-size="21">LH</text>
<text x="727.5" y="772" font-size="21">LV</text>
<text x="756.5" y="752.5" font-size="21">RH</text>
<text x="789.0" y="735.5" font-size="21">RV</text>
<text transform="translate(499,810.5) rotate(16)" font-size="21" font-style="italic">Input</text>
<text transform="translate(751,818) rotate(-36)" font-size="21">Output</text>
<text x="483.75" y="585" font-size="21">0.55</text>
<text x="566.25" y="543" font-size="21">0.72</text>
<text x="683" y="512.5" font-size="21">0.78</text>
<text x="733" y="583.75" font-size="21">0.59</text></g>
<g id="labels"><text x="1" y="29.5" font-size="34" font-weight="bold">(a)</text>
<text x="445" y="29.5" font-size="34" font-weight="bold">(b)</text>
<text x="1" y="485.5" font-size="34" font-weight="bold">(c)</text>
<text x="448" y="485.5" font-size="34" font-weight="bold">(d)</text>
<text x="126" y="33.75" font-size="21">Control qubit</text>
<text x="266.25" y="65.5" font-size="21">|<tspan dx="-0.6">69<tspan font-style="italic">S</tspan></tspan><tspan dx="-1.4">⟩</tspan></text>
<text x="263.75" y="107" font-size="21">Control</text>
<text x="287.5" y="138.75" font-size="21">Rydberg</text>
<text x="302.5" y="169.5" font-size="21">coupling</text>
<text x="82.5" y="203.75" font-size="21">|5<tspan font-style="italic">P</tspan><tspan font-size="13.5" dy="5">3/2</tspan><tspan dy="-5" font-size="1">&#8203;</tspan>,<tspan font-style="italic">F</tspan> = 3⟩</text>
<text x="375" y="217.5" font-size="21">|<tspan dx="-0.6"><tspan font-style="italic">e</tspan><tspan font-size="13.5" dy="5" font-style="italic">L</tspan><tspan dy="-5" font-size="1">&#8203;</tspan></tspan><tspan dx="-1.4">⟩</tspan></text>
<text x="168" y="267.5" font-size="21">|<tspan dx="-0.6"><tspan font-style="italic">e</tspan><tspan font-size="13.5" dy="5" font-style="italic">R</tspan><tspan dy="-5" font-size="1">&#8203;</tspan></tspan><tspan dx="-1.4">⟩</tspan></text>
<text x="179.5" y="315" font-size="21">|<tspan dx="-0.6"><tspan font-style="italic">R</tspan></tspan><tspan dx="-1.4">⟩</tspan></text>
<text x="273.75" y="317" font-size="21">|<tspan dx="-0.6"><tspan font-style="italic">L</tspan></tspan><tspan dx="-1.4">⟩</tspan></text>
<text x="265" y="380" font-size="21">|<tspan dx="-0.6"><tspan font-style="italic">g</tspan></tspan><tspan dx="-1.4">⟩</tspan></text>
<text x="172.5" y="440" font-size="21">|<tspan dx="-0.6"><tspan font-style="italic">g'</tspan></tspan><tspan dx="-1.4">⟩</tspan></text>
<text x="48" y="247" font-size="21"><tspan font-style="italic">Δ</tspan><tspan font-size="14" dy="5.5">HFS</tspan><tspan dy="-5.5" font-size="1">&#8203;</tspan></text>
<text x="96.25" y="327.5" font-size="21" text-anchor="end">Ground</text>
<text x="96.25" y="353.25" font-size="21" text-anchor="end">state</text>
<text x="96.25" y="379.25" font-size="21" text-anchor="end">coupling</text>
<text x="600" y="33.75" font-size="21.4">Target qubit</text>
<text x="706.25" y="65.5" font-size="21">|<tspan dx="-0.6">67<tspan dx="2.2" font-style="italic">S</tspan></tspan><tspan dx="-1.4">⟩</tspan></text>
<text x="690" y="118" font-size="21">Target</text>
<text x="713" y="149.5" font-size="21">coupling</text>
<text x="800" y="207.5" font-size="21">|<tspan dx="-0.6"><tspan font-style="italic">e</tspan><tspan font-size="13.5" dy="5" font-style="italic">L</tspan><tspan dy="-5" font-size="1">&#8203;</tspan></tspan><tspan dx="-1.4">⟩</tspan></text>
<text x="586.25" y="258" font-size="21">|<tspan dx="-0.6"><tspan font-style="italic">e</tspan><tspan font-size="13.5" dy="5" font-style="italic">R</tspan><tspan dy="-5" font-size="1">&#8203;</tspan></tspan><tspan dx="-1.4">⟩</tspan></text>
<text x="603.75" y="305" font-size="21">|<tspan dx="-0.6"><tspan font-style="italic">R</tspan></tspan><tspan dx="-1.4">⟩</tspan></text>
<text x="701.25" y="308" font-size="21">|<tspan dx="-0.6"><tspan font-style="italic">L</tspan></tspan><tspan dx="-1.4">⟩</tspan></text>
<text x="689.5" y="370.5" font-size="21">|<tspan dx="-0.6"><tspan font-style="italic">g</tspan></tspan><tspan dx="-1.4">⟩</tspan></text>
<text x="450" y="238" font-size="21"><tspan font-style="italic">Δ</tspan><tspan font-size="14" dy="5.5">HFS</tspan><tspan dy="-5.5" font-size="1">&#8203;</tspan></text>
<text x="757.5" y="272.5" font-size="21"><tspan font-style="italic">Δ</tspan><tspan font-size="14" dy="5" font-style="italic">t</tspan><tspan dy="-5" font-size="1">&#8203;</tspan></text>
<text x="522" y="325" font-size="21"><tspan font-style="italic">Δ</tspan><tspan font-size="14" dy="5" font-style="italic">t</tspan><tspan dy="-5" font-size="1">&#8203;</tspan></text></g>
</svg>
</body></html>
